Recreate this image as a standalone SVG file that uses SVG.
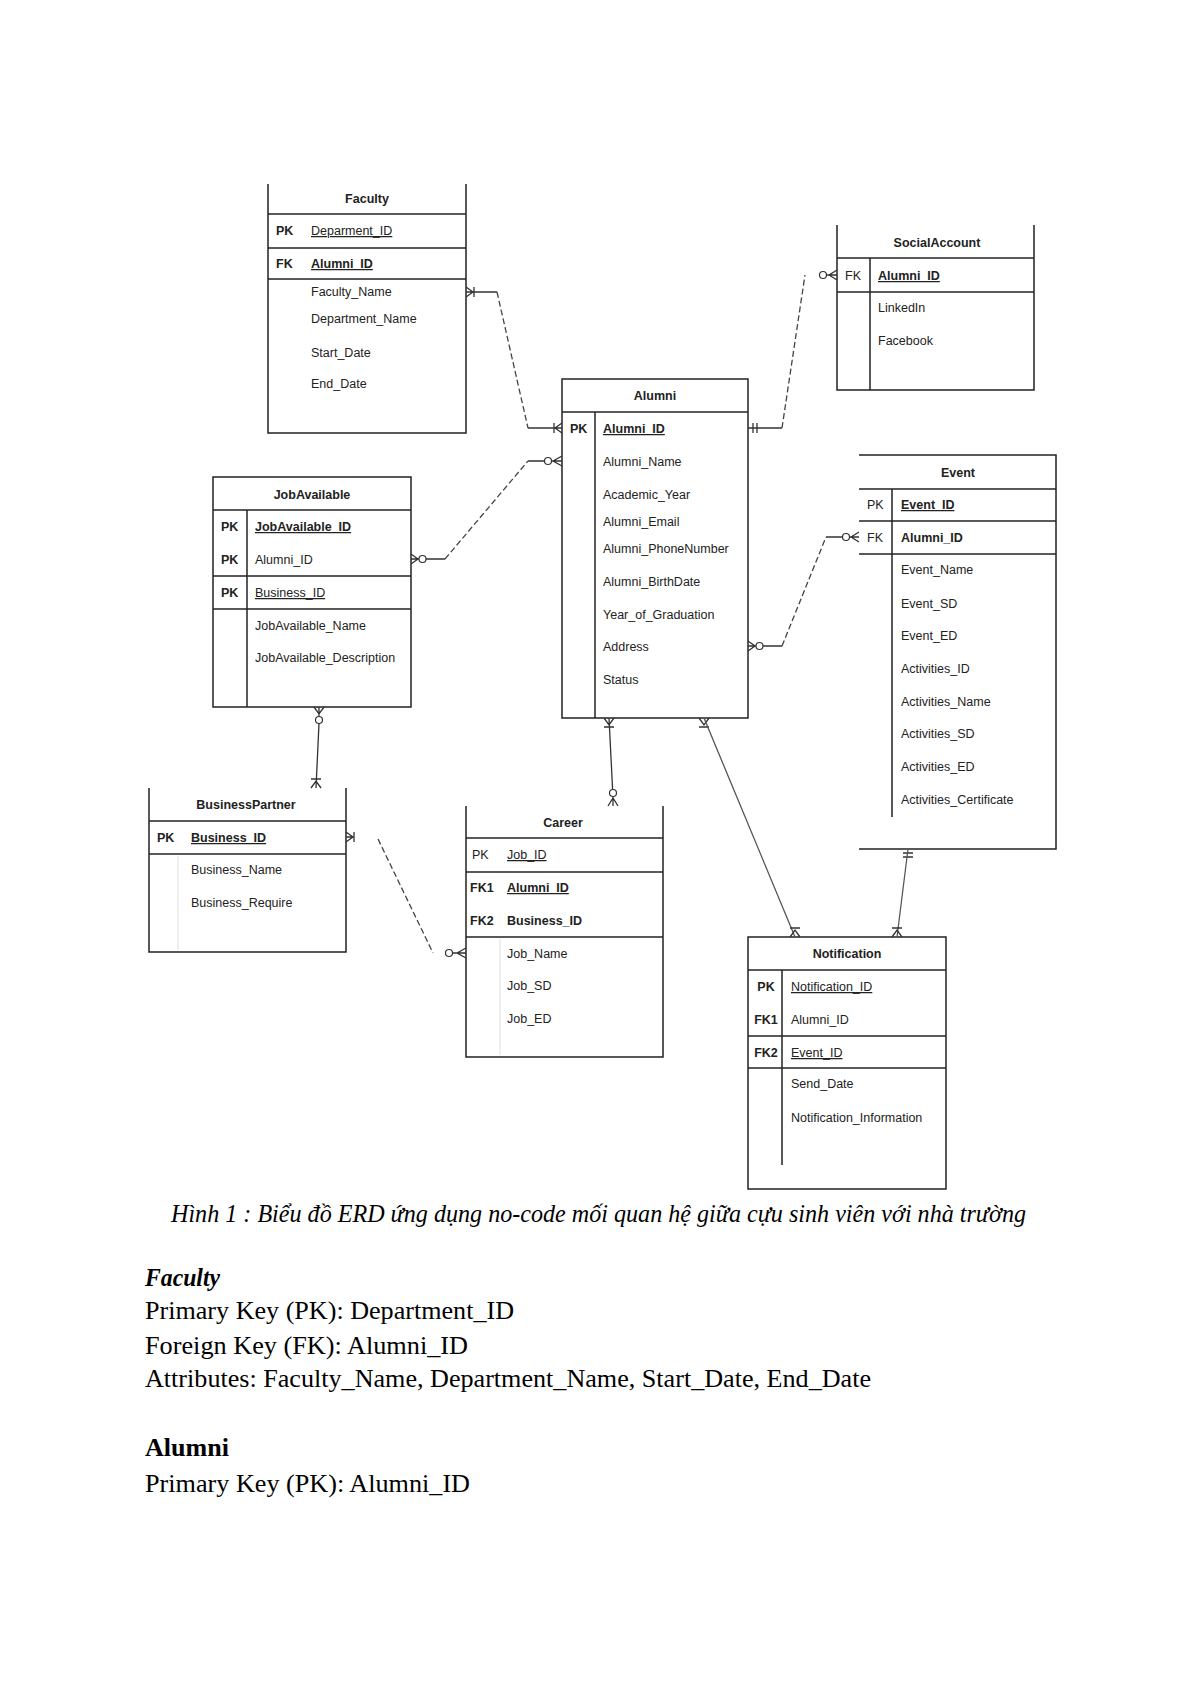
<svg xmlns="http://www.w3.org/2000/svg" width="1200" height="1694" viewBox="0 0 1200 1694">
<style>
.bx{fill:none;stroke:#222;stroke-width:1.5}
.ln{stroke:#222;stroke-width:1.5}
.fv{stroke:#e4e4e4;stroke-width:1.2}
.t{font-family:"Liberation Sans",Arial,sans-serif;font-size:12.5px;fill:#222}
.h{font-family:"Liberation Sans",Arial,sans-serif;font-size:12.5px;font-weight:bold;fill:#222;text-anchor:middle}
.k{font-family:"Liberation Sans",Arial,sans-serif;font-size:12.5px;font-weight:bold;fill:#222}
.b{font-weight:bold}
.u{text-decoration:underline}
.c{fill:none;stroke:#333;stroke-width:1.3}
.d{fill:none;stroke:#444;stroke-width:1.3;stroke-dasharray:6,3}
.s{fill:none;stroke:#555;stroke-width:1.3}
.o{fill:#fff;stroke:#333;stroke-width:1.2}
.body{font-family:"Liberation Serif","Times New Roman",serif;font-size:25px;fill:#000}
</style>

<g id="Faculty">
<path class="bx" d="M268,184 V433 H466 V184"/>
<line class="ln" x1="268" y1="214" x2="466" y2="214"/>
<line class="ln" x1="268" y1="248" x2="466" y2="248"/>
<line class="ln" x1="268" y1="279" x2="466" y2="279"/>
<text class="h" x="367" y="203">Faculty</text>
<text class="k" x="276" y="235">PK</text>
<text class="t u" x="311" y="235">Deparment_ID</text>
<text class="k" x="276" y="268">FK</text>
<text class="t b u" x="311" y="268">Alumni_ID</text>
<text class="t" x="311" y="296">Faculty_Name</text>
<text class="t" x="311" y="323">Department_Name</text>
<text class="t" x="311" y="357">Start_Date</text>
<text class="t" x="311" y="388">End_Date</text>
</g>

<g id="Alumni">
<rect class="bx" x="562" y="379" width="186" height="339"/>
<line class="ln" x1="562" y1="412" x2="748" y2="412"/>
<line class="ln" x1="595" y1="412" x2="595" y2="718"/>
<text class="h" x="655" y="400">Alumni</text>
<text class="k" x="570" y="433">PK</text>
<text class="t b u" x="603" y="433">Alumni_ID</text>
<text class="t" x="603" y="466">Alumni_Name</text>
<text class="t" x="603" y="499">Academic_Year</text>
<text class="t" x="603" y="526">Alumni_Email</text>
<text class="t" x="603" y="553">Alumni_PhoneNumber</text>
<text class="t" x="603" y="586">Alumni_BirthDate</text>
<text class="t" x="603" y="619">Year_of_Graduation</text>
<text class="t" x="603" y="651">Address</text>
<text class="t" x="603" y="684">Status</text>
</g>

<g id="SocialAccount">
<path class="bx" d="M837,225 V390 H1034 V225"/>
<line class="ln" x1="837" y1="258" x2="1034" y2="258"/>
<line class="ln" x1="837" y1="292" x2="1034" y2="292"/>
<line class="ln" x1="870" y1="258" x2="870" y2="390"/>
<text class="h" x="937" y="247">SocialAccount</text>
<text class="t" x="845" y="280">FK</text>
<text class="t b u" x="878" y="280">Alumni_ID</text>
<text class="t" x="878" y="312">LinkedIn</text>
<text class="t" x="878" y="345">Facebook</text>
</g>

<g id="JobAvailable">
<rect class="bx" x="213" y="477" width="198" height="230"/>
<line class="ln" x1="213" y1="510" x2="411" y2="510"/>
<line class="ln" x1="213" y1="576" x2="411" y2="576"/>
<line class="ln" x1="213" y1="609" x2="411" y2="609"/>
<line class="ln" x1="247" y1="510" x2="247" y2="707"/>
<text class="h" x="312" y="499">JobAvailable</text>
<text class="k" x="221" y="531">PK</text>
<text class="t b u" x="255" y="531">JobAvailable_ID</text>
<text class="k" x="221" y="564">PK</text>
<text class="t" x="255" y="564">Alumni_ID</text>
<text class="k" x="221" y="597">PK</text>
<text class="t u" x="255" y="597">Business_ID</text>
<text class="t" x="255" y="630">JobAvailable_Name</text>
<text class="t" x="255" y="662">JobAvailable_Description</text>
</g>

<g id="Event">
<path class="bx" d="M859,455 H1056 V849 H859"/>
<line class="ln" x1="859" y1="489" x2="1056" y2="489"/>
<line class="ln" x1="859" y1="521" x2="1056" y2="521"/>
<line class="ln" x1="859" y1="554" x2="1056" y2="554"/>
<line class="ln" x1="892" y1="489" x2="892" y2="817"/>
<text class="h" x="958" y="477">Event</text>
<text class="t" x="867" y="509">PK</text>
<text class="t b u" x="901" y="509">Event_ID</text>
<text class="t" x="867" y="542">FK</text>
<text class="t b" x="901" y="542">Alumni_ID</text>
<text class="t" x="901" y="574">Event_Name</text>
<text class="t" x="901" y="608">Event_SD</text>
<text class="t" x="901" y="640">Event_ED</text>
<text class="t" x="901" y="673">Activities_ID</text>
<text class="t" x="901" y="706">Activities_Name</text>
<text class="t" x="901" y="738">Activities_SD</text>
<text class="t" x="901" y="771">Activities_ED</text>
<text class="t" x="901" y="804">Activities_Certificate</text>
</g>

<g id="BusinessPartner">
<path class="bx" d="M149,788 V952 H346 V788"/>
<line class="ln" x1="149" y1="821" x2="346" y2="821"/>
<line class="ln" x1="149" y1="854" x2="346" y2="854"/>
<line class="fv" x1="178" y1="856" x2="178" y2="950"/>
<text class="h" x="246" y="809">BusinessPartner</text>
<text class="k" x="157" y="842">PK</text>
<text class="t b u" x="191" y="842">Business_ID</text>
<text class="t" x="191" y="874">Business_Name</text>
<text class="t" x="191" y="907">Business_Require</text>
</g>

<g id="Career">
<path class="bx" d="M466,806 V1057 H663 V806"/>
<line class="ln" x1="466" y1="838" x2="663" y2="838"/>
<line class="ln" x1="466" y1="872" x2="663" y2="872"/>
<line class="ln" x1="466" y1="937" x2="663" y2="937"/>
<line class="fv" x1="500" y1="939" x2="500" y2="1055"/>
<text class="h" x="563" y="827">Career</text>
<text class="t" x="472" y="859">PK</text>
<text class="t u" x="507" y="859">Job_ID</text>
<text class="k" x="470" y="892">FK1</text>
<text class="t b u" x="507" y="892">Alumni_ID</text>
<text class="k" x="470" y="925">FK2</text>
<text class="t b" x="507" y="925">Business_ID</text>
<text class="t" x="507" y="958">Job_Name</text>
<text class="t" x="507" y="990">Job_SD</text>
<text class="t" x="507" y="1023">Job_ED</text>
</g>

<g id="Notification">
<rect class="bx" x="748" y="937" width="198" height="252"/>
<line class="ln" x1="748" y1="970" x2="946" y2="970"/>
<line class="ln" x1="748" y1="1036" x2="946" y2="1036"/>
<line class="ln" x1="748" y1="1068" x2="946" y2="1068"/>
<line class="ln" x1="782" y1="970" x2="782" y2="1165"/>
<text class="h" x="847" y="958">Notification</text>
<text class="h" x="766" y="991">PK</text>
<text class="h" x="766" y="1024">FK1</text>
<text class="h" x="766" y="1057">FK2</text>
<text class="t u" x="791" y="991">Notification_ID</text>
<text class="t" x="791" y="1024">Alumni_ID</text>
<text class="t u" x="791" y="1057">Event_ID</text>
<text class="t" x="791" y="1088">Send_Date</text>
<text class="t" x="791" y="1122">Notification_Information</text>
</g>

<g id="connectors">
<!-- Faculty - Alumni -->
<path class="c" d="M466,287 L473,292 L466,297 M466,292 H497 M474,287 V297"/>
<path class="d" d="M497,292 L528,428"/>
<path class="c" d="M528,428 H562 M562,423 L555,428 L562,433 M554,423 V433"/>
<!-- Alumni - SocialAccount -->
<path class="c" d="M748,428 H782 M753,423 V433 M757,423 V433"/>
<path class="d" d="M782,428 L805,275"/>
<circle class="o" cx="823" cy="275" r="3.5"/>
<path class="c" d="M827,275 H837 M837,270 L829,275 L837,280"/>
<!-- JobAvailable - Alumni -->
<path class="c" d="M411,554 L418,559 L411,564 M411,559 H419 M426,559 H445"/>
<circle class="o" cx="422.5" cy="559" r="3.5"/>
<path class="d" d="M445,559 L528,461"/>
<path class="c" d="M528,461 H544.5 M551.5,461 H562 M562,456 L553,461 L562,466"/>
<circle class="o" cx="548" cy="461" r="3.5"/>
<!-- Alumni - Event -->
<path class="c" d="M748,641 L755,646 L748,651 M748,646 H756 M763,646 H782"/>
<circle class="o" cx="759.5" cy="646" r="3.5"/>
<path class="d" d="M782,646 L826,537"/>
<path class="c" d="M826,537 H842.5 M849.5,537 H859 M859,532 L851,537 L859,542"/>
<circle class="o" cx="846" cy="537" r="3.5"/>
<!-- JobAvailable - BusinessPartner -->
<path class="c" d="M314,707 L319,714 L324,707 M319,707 V716.5"/>
<circle class="o" cx="319" cy="720" r="3.5"/>
<path class="c" d="M319,723.5 L316,788 M311,779 H321 M311,788 L316,781 L321,788"/>
<!-- Alumni - Career -->
<path class="c" d="M604,718 L609,725 L614,718 M604,727 H614 M609,718 L612.6,789.5"/>
<circle class="o" cx="613" cy="793" r="3.5"/>
<path class="c" d="M613,796.5 V806 M608,806 L613,798 L618,806"/>
<!-- Alumni - Notification -->
<path class="c" d="M699,718 L704,725 L709,718 M699,727 H709"/>
<path class="s" d="M704,718 L795,937"/>
<path class="c" d="M790,937 L795,930 L800,937 M790,928 H800"/>
<!-- Event - Notification -->
<path class="c" d="M903,853 H913 M903,857 H913"/>
<path class="s" d="M908,849 L897,937"/>
<path class="c" d="M892,937 L897,930 L902,937 M892,928 H902"/>
<!-- BusinessPartner - Career -->
<path class="c" d="M346,832 L353,837 L346,842 M346,837 H353 M354,832 V842"/>
<path class="d" d="M378,839 L433,953"/>
<circle class="o" cx="449" cy="953" r="3.5"/>
<path class="c" d="M452.5,953 H466 M466,948 L457,953 L466,958"/>
</g>

<g id="caption">
<text class="body" x="171" y="1222" font-size="21" font-style="italic" textLength="855" lengthAdjust="spacingAndGlyphs">Hình 1 : Biểu đồ ERD ứng dụng no-code mối quan hệ giữa cựu sinh viên với nhà trường</text>
<text class="body" x="145" y="1286" font-weight="bold" font-style="italic" textLength="75" lengthAdjust="spacingAndGlyphs">Faculty</text>
<text class="body" x="145" y="1319" textLength="369" lengthAdjust="spacingAndGlyphs">Primary Key (PK): Department_ID</text>
<text class="body" x="145" y="1354" textLength="323" lengthAdjust="spacingAndGlyphs">Foreign Key (FK): Alumni_ID</text>
<text class="body" x="145" y="1387" textLength="726" lengthAdjust="spacingAndGlyphs">Attributes: Faculty_Name, Department_Name, Start_Date, End_Date</text>
<text class="body" x="145" y="1456" font-weight="bold" textLength="84" lengthAdjust="spacingAndGlyphs">Alumni</text>
<text class="body" x="145" y="1492" textLength="325" lengthAdjust="spacingAndGlyphs">Primary Key (PK): Alumni_ID</text>
</g>
</svg>
